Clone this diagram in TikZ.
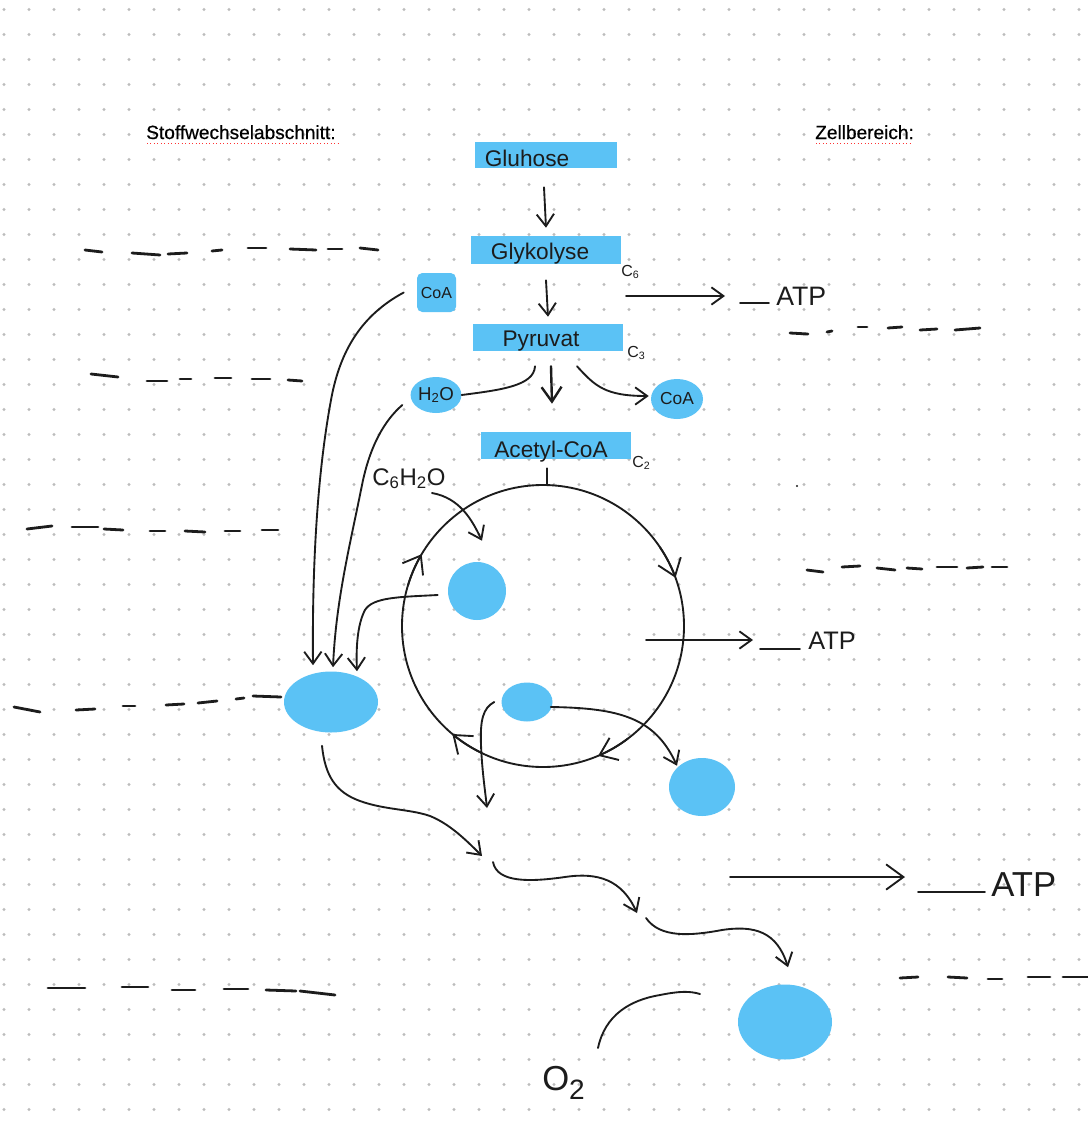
\documentclass[tikz,border=0pt]{standalone}
\usepackage{fontspec}
\setmainfont{Liberation Sans}
\newfontfamily\headfont[FakeBold=0.6]{Liberation Sans}
\usetikzlibrary{arrows.meta,shapes.geometric,calc}
\definecolor{blau}{RGB}{91,194,245}
\definecolor{punkt}{RGB}{188,188,188}
\definecolor{tinte}{RGB}{28,28,28}
\begin{document}
\begin{tikzpicture}[x=0.75pt,y=-0.75pt,
  ink/.style={draw=tinte,line width=1.4pt,line cap=round,line join=round},
  arr/.style={ink,-{Straight Barb[length=9pt,width=13pt]}},
  bigarr/.style={ink,-{Straight Barb[length=12pt,width=18pt]}},
  hdash/.style={draw=tinte,line width=2.1pt,line cap=round},
  bar/.style={rectangle,fill=blau,draw=none,inner sep=0pt},
  blob/.style={ellipse,fill=blau,draw=none,inner sep=0pt,text=tinte},
  hand/.style={text=tinte,inner sep=0pt,anchor=base,font=\fontsize{17}{20}\selectfont},
  small/.style={text=tinte,inner sep=0pt,anchor=base west,font=\fontsize{12}{14}\selectfont},
  head/.style={text=black,inner sep=0pt,anchor=base west,font=\headfont\fontsize{14.3}{17}\selectfont},
]
\fill[white] (0,0) rectangle (1088,1121);
\useasboundingbox (0,0) rectangle (1088,1121);
% dot grid
\foreach \i in {0,...,43}{\foreach \j in {0,...,44}{\fill[punkt] (4+25*\i,9.5+25*\j) circle[radius=1.6];}}

% headers
\node[head] (h1) at (146,139) {Stoffwechselabschnitt:};
\node[head] (h2) at (815,139) {Zellbereich:};
\draw[red!80,line width=0.6pt,dotted] (147,143) -- (338,143);
\draw[red!80,line width=0.6pt,dotted] (816,143) -- (911,143);

% boxes
\node[bar,minimum width={142*0.75pt},minimum height={26*0.75pt}] (gluhose) at (546,155) {};
\node[bar,minimum width={150*0.75pt},minimum height={28*0.75pt}] (glykolyse) at (546,250) {};
\node[bar,minimum width={150*0.75pt},minimum height={27*0.75pt}] (pyruvat) at (548,337.5) {};
\node[bar,minimum width={150*0.75pt},minimum height={27*0.75pt}] (acetyl) at (556,445.5) {};
\node[bar,rounded corners=4pt,minimum width={39*0.75pt},minimum height={39*0.75pt},text=tinte,font=\fontsize{12}{14}\selectfont] (coa) at (436.5,292.5) {CoA};
\node[hand] (tgluhose) at (527,166) {Gluhose};
\node[hand] (tglyk) at (540,259) {Glykolyse};
\node[hand] (tpyr) at (541,346) {Pyruvat};
\node[hand] (tacetyl) at (551,457) {Acetyl-CoA};

% blobs
\node[blob,minimum width={50*0.75pt},minimum height={36*0.75pt},font=\fontsize{14}{16}\selectfont] (h2o) at (436,395) {H\textsubscript{2}O};
\node[blob,minimum width={52*0.75pt},minimum height={40*0.75pt},font=\fontsize{13}{15}\selectfont] (coa2) at (677,399) {CoA};
\node[blob,minimum width={58*0.75pt},minimum height={58*0.75pt}] (c1) at (477,591) {};
\node[blob,minimum width={51*0.75pt},minimum height={39*0.75pt}] (e2) at (527,702) {};
\node[blob,minimum width={94*0.75pt},minimum height={61*0.75pt}] (e3) at (331,702) {};
\node[blob,minimum width={66*0.75pt},minimum height={58*0.75pt}] (e4) at (702,787) {};
\node[blob,minimum width={94*0.75pt},minimum height={75*0.75pt}] (e5) at (785,1022) {};

% carbon labels
\node[small] (c6) at (621,276) {C\textsubscript{6}};
\node[small] (c3) at (627,357) {C\textsubscript{3}};
\node[small] (c2) at (632,467) {C\textsubscript{2}};
\node[text=tinte,inner sep=0pt,anchor=base west,font=\fontsize{18}{20}\selectfont] (c6h2o) at (372,485) {C\textsubscript{6}H\textsubscript{2}O};
\node[text=tinte,inner sep=0pt,anchor=base west,font=\fontsize{26}{28}\selectfont] (o2) at (542,1090) {O\raisebox{-7pt}{\fontsize{21}{21}\selectfont 2}};

% main chain arrows
\draw[arr] ($(gluhose.south)+(-2,19)$) -- ($(glykolyse.north)+(0,-8)$);
\draw[arr] ($(glykolyse.south)+(0,16)$) -- ($(pyruvat.north)+(0,-7)$);
\draw[ink,line width=1.8pt,-{Straight Barb[length=11pt,width=15pt]}] ($(pyruvat.south)+(3,15)$) -- ($(acetyl.north)+(-4,-28)$);
\draw[ink] ($(pyruvat.south)+(-13,15)$) .. controls (534,386) and (500,390) .. (h2o.east);
\draw[arr] ($(pyruvat.south)+(29,15)$) .. controls (595,386) and (605,396) .. ($(coa2.west)+(-2,-3)$);
\draw[ink] ($(acetyl.south)+(-9,9)$) -- ($(acetyl.south)+(-9,26)$) coordinate (ktop);

% citric cycle
\node[ink,draw,circle,minimum size={282*0.75pt},inner sep=0pt] (kreis) at (543,626) {};
\foreach \a/\b in {-34/-20,53/67,116/130,196.6/210.6}{
  \draw[bigarr] ($(kreis.center)+(\a:141)$) arc[start angle=\a,end angle=\b,radius=141];}

% C6H2O arrow
\coordinate (c6s) at (432,493);
\draw[arr] (c6s) .. controls (460,498) and (472,520) .. ($(c1.north)+(5,-21)$);
% inner circle back to big ellipse
\draw[arr] ($(c1.west)+(-10,4)$) .. controls (400,597) and (373,597) .. (365,610) .. controls (357,625) and (356,650) .. ($(e3.north)+(26,0)$);
% CoA -> big ellipse
\draw[arr] ($(coa.west)+(-13,0)$) .. controls (362,315) and (340,350) .. (331,400) .. controls (318,470) and (312,560) .. ($(e3.north)+(-18,-6)$);
% H2O -> big ellipse
\draw[arr] ($(h2o.west)+(-8,10)$) .. controls (385,420) and (370,445) .. (362,485) .. controls (350,545) and (336,600) .. ($(e3.north)+(2,-4)$);
% lower inner ellipse -> right circle
\draw[arr] ($(e2.east)+(-2,5)$) .. controls (620,708) and (655,718) .. ($(e4.north)+(-25,8)$);

% electron chain
\coordinate (chA) at (487,808);
\coordinate (chB) at (482,856);
\coordinate (chC) at (493,862);
\coordinate (chD) at (637,913);
\coordinate (chE) at (646,918);
\draw[arr] ($(e2.west)+(-7,0)$) .. controls (483,708) and (480,720) .. (481,745) .. controls (482,770) and (485,790) .. (chA);
\draw[arr] ($(e3.south)+(-9,13)$) .. controls (325,775) and (335,792) .. (360,801) .. controls (385,810) and (410,809) .. (430,816) .. controls (450,824) and (467,841) .. (chB);
\draw[arr] (chC) .. controls (497,883) and (530,882) .. (565,877) .. controls (598,872) and (622,880) .. (chD);
\draw[arr] (chE) .. controls (660,938) and (690,936) .. (722,930) .. controls (755,925) and (777,932) .. ($(e5.north)+(3,-17)$);
\coordinate (o2s) at (598,1048);
\coordinate (o2e) at (700,994);
\draw[ink] (o2s) .. controls (605,1015) and (630,1000) .. (660,995) .. controls (680,991) and (690,991) .. (o2e);

% ATP
\node[text=tinte,inner sep=0pt,anchor=base west,font=\fontsize{20}{22}\selectfont] (atp1) at (776,305) {ATP};
\node[text=tinte,inner sep=0pt,anchor=base west,font=\fontsize{19}{21}\selectfont] (atp2) at (808,649) {ATP};
\node[text=tinte,inner sep=0pt,anchor=base west,font=\fontsize{26}{28}\selectfont] (atp3) at (991,896) {ATP};
\coordinate (a1s) at (626,296);
\coordinate (a1e) at (725,296);
\coordinate (a2s) at (646,640);
\coordinate (a2e) at (753,640);
\coordinate (a3s) at (730,877);
\coordinate (a3e) at (905,877);
\draw[arr] (a1s) -- (a1e);
\draw[arr] (a2s) -- (a2e);
\draw[ink,-{Straight Barb[length=13pt,width=19pt]}] (a3s) -- (a3e);
\draw[ink] (740,303) -- (769,303);
\draw[ink] (760,649) -- (800,649);
\draw[ink] (918,892) -- (985,892);

% stray dot
\fill[tinte] (797,486) circle[radius=1.2];

% hand-drawn dashed lines
\foreach \xa/\ya/\xb/\yb in {85/250/102/252,132/253/160/255,168/254/187/253,212/251/222/250,248/248/266/248,290/249/316/250,328/249/342/249,360/248/378/250,
  91/374/118/377,147/381/167/381,180/379/191/379,215/378/231/378,252/379/270/379,288/380/302/381,
  27/529/52/526,72/527/98/527,104/529/123/530,150/531/165/531,185/531/205/532,225/531/240/531,262/530/278/530,
  14/707/40/712,76/710/95/709,123/706/135/706,166/705/184/704,198/703/217/701,236/699/244/698,253/696/281/697,
  48/988/85/988,122/987/148/987,172/990/195/990,224/989/248/989,266/990/296/991,300/991/335/995,
  790/333/808/334,827/332/832/331,858/327/867/327,888/328/902/327,920/330/937/329,955/330/980/328,
  807/570/823/572,842/567/860/566,877/568/895/570,907/568/922/569,937/567/957/567,967/568/983/567,992/567/1007/567,
  900/978/918/977,948/977/967/978,988/979/1002/979,1028/977/1050/977,1063/977/1088/977}{
  \draw[hdash] (\xa,\ya) -- (\xb,\yb);}
\end{tikzpicture}
\end{document}
